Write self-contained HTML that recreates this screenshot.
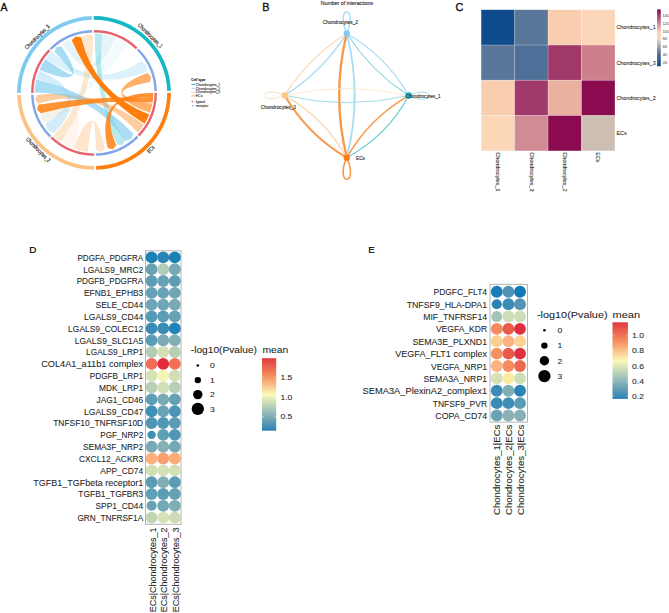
<!DOCTYPE html><html><head><meta charset="utf-8"><style>html,body{margin:0;padding:0;background:#fff;}svg{display:block;}</style></head><body><svg width="669" height="613" viewBox="0 0 669 613" font-family="Liberation Sans, sans-serif">
<rect width="669" height="613" fill="#ffffff"/>
<rect x="145.5" y="250.8" width="35.5" height="273.49999999999994" fill="none" stroke="#b3b3b3" stroke-width="1"/>
<text x="143.20" y="260.80" font-size="8.26" text-anchor="end" fill="#262626" textLength="65.77" lengthAdjust="spacingAndGlyphs" stroke="#262626" stroke-width="0.07">PDGFA_PDGFRA</text>
<circle cx="151.60" cy="257.40" r="5.95" fill="#1a80b6"/>
<circle cx="163.20" cy="257.40" r="5.95" fill="#2a84b5"/>
<circle cx="174.80" cy="257.40" r="5.95" fill="#1a80b6"/>
<text x="143.20" y="272.63" font-size="8.26" text-anchor="end" fill="#262626" textLength="60.01" lengthAdjust="spacingAndGlyphs" stroke="#262626" stroke-width="0.07">LGALS9_MRC2</text>
<circle cx="151.60" cy="269.23" r="5.95" fill="#6aa2b5"/>
<circle cx="163.20" cy="269.23" r="5.95" fill="#b5cdb8"/>
<circle cx="174.80" cy="269.23" r="5.95" fill="#78a8b5"/>
<text x="143.20" y="284.46" font-size="8.26" text-anchor="end" fill="#262626" textLength="66.56" lengthAdjust="spacingAndGlyphs" stroke="#262626" stroke-width="0.07">PDGFB_PDGFRA</text>
<circle cx="151.60" cy="281.06" r="5.95" fill="#5d9db6"/>
<circle cx="163.20" cy="281.06" r="5.95" fill="#6aa2b5"/>
<circle cx="174.80" cy="281.06" r="5.95" fill="#5d9db6"/>
<text x="143.20" y="296.29" font-size="8.26" text-anchor="end" fill="#262626" textLength="59.17" lengthAdjust="spacingAndGlyphs" stroke="#262626" stroke-width="0.07">EFNB1_EPHB3</text>
<circle cx="151.60" cy="292.89" r="5.95" fill="#65a0b5"/>
<circle cx="163.20" cy="292.89" r="5.95" fill="#6aa2b5"/>
<circle cx="174.80" cy="292.89" r="5.95" fill="#70a5b5"/>
<text x="143.20" y="308.12" font-size="8.26" text-anchor="end" fill="#262626" textLength="47.56" lengthAdjust="spacingAndGlyphs" stroke="#262626" stroke-width="0.07">SELE_CD44</text>
<circle cx="151.60" cy="304.72" r="5.95" fill="#6ea4b5"/>
<circle cx="163.20" cy="304.72" r="5.95" fill="#70a5b5"/>
<circle cx="174.80" cy="304.72" r="5.95" fill="#78a9b5"/>
<text x="143.20" y="319.95" font-size="8.26" text-anchor="end" fill="#262626" textLength="59.16" lengthAdjust="spacingAndGlyphs" stroke="#262626" stroke-width="0.07">LGALS9_CD44</text>
<circle cx="151.60" cy="316.55" r="5.95" fill="#5599b5"/>
<circle cx="163.20" cy="316.55" r="5.95" fill="#5e9db5"/>
<circle cx="174.80" cy="316.55" r="5.95" fill="#65a0b5"/>
<text x="143.20" y="331.78" font-size="8.26" text-anchor="end" fill="#262626" textLength="75.06" lengthAdjust="spacingAndGlyphs" stroke="#262626" stroke-width="0.07">LGALS9_COLEC12</text>
<circle cx="151.60" cy="328.38" r="5.95" fill="#3a8cb5"/>
<circle cx="163.20" cy="328.38" r="5.95" fill="#3a8cb5"/>
<circle cx="174.80" cy="328.38" r="5.95" fill="#1f82b8"/>
<text x="143.20" y="343.61" font-size="8.26" text-anchor="end" fill="#262626" textLength="68.39" lengthAdjust="spacingAndGlyphs" stroke="#262626" stroke-width="0.07">LGALS9_SLC1A5</text>
<circle cx="151.60" cy="340.21" r="5.95" fill="#5c9cb5"/>
<circle cx="163.20" cy="340.21" r="5.95" fill="#7aaab5"/>
<circle cx="174.80" cy="340.21" r="5.95" fill="#80aeb5"/>
<text x="143.20" y="355.44" font-size="8.26" text-anchor="end" fill="#262626" textLength="57.08" lengthAdjust="spacingAndGlyphs" stroke="#262626" stroke-width="0.07">LGALS9_LRP1</text>
<circle cx="151.60" cy="352.04" r="5.95" fill="#b4cdb6"/>
<circle cx="163.20" cy="352.04" r="5.95" fill="#d4e0b5"/>
<circle cx="174.80" cy="352.04" r="5.95" fill="#b8cfb6"/>
<text x="143.20" y="367.27" font-size="8.26" text-anchor="end" fill="#262626" textLength="101.96" lengthAdjust="spacingAndGlyphs" stroke="#262626" stroke-width="0.07">COL4A1_a11b1 complex</text>
<circle cx="151.60" cy="363.87" r="5.95" fill="#f26d55"/>
<circle cx="163.20" cy="363.87" r="5.95" fill="#e22b3d"/>
<circle cx="174.80" cy="363.87" r="5.95" fill="#f47055"/>
<text x="143.20" y="379.10" font-size="8.26" text-anchor="end" fill="#262626" textLength="53.44" lengthAdjust="spacingAndGlyphs" stroke="#262626" stroke-width="0.07">PDGFB_LRP1</text>
<circle cx="151.60" cy="375.70" r="5.95" fill="#d5e2b5"/>
<circle cx="163.20" cy="375.70" r="5.95" fill="#f5f5b8"/>
<circle cx="174.80" cy="375.70" r="5.95" fill="#d0dfb5"/>
<text x="143.20" y="390.93" font-size="8.26" text-anchor="end" fill="#262626" textLength="44.09" lengthAdjust="spacingAndGlyphs" stroke="#262626" stroke-width="0.07">MDK_LRP1</text>
<circle cx="151.60" cy="387.53" r="5.95" fill="#b8cfb6"/>
<circle cx="163.20" cy="387.53" r="5.95" fill="#d2e0b5"/>
<circle cx="174.80" cy="387.53" r="5.95" fill="#b8cfb6"/>
<text x="143.20" y="402.76" font-size="8.26" text-anchor="end" fill="#262626" textLength="46.72" lengthAdjust="spacingAndGlyphs" stroke="#262626" stroke-width="0.07">JAG1_CD46</text>
<circle cx="151.60" cy="399.36" r="5.95" fill="#5f9db5"/>
<circle cx="163.20" cy="399.36" r="5.95" fill="#7aabb5"/>
<circle cx="174.80" cy="399.36" r="5.95" fill="#65a0b5"/>
<text x="143.20" y="414.59" font-size="8.26" text-anchor="end" fill="#262626" textLength="59.16" lengthAdjust="spacingAndGlyphs" stroke="#262626" stroke-width="0.07">LGALS9_CD47</text>
<circle cx="151.60" cy="411.19" r="5.95" fill="#3f90b5"/>
<circle cx="163.20" cy="411.19" r="5.95" fill="#6aa3b5"/>
<circle cx="174.80" cy="411.19" r="5.95" fill="#4a94b5"/>
<text x="143.20" y="426.42" font-size="8.26" text-anchor="end" fill="#262626" textLength="90.02" lengthAdjust="spacingAndGlyphs" stroke="#262626" stroke-width="0.07">TNFSF10_TNFRSF10D</text>
<circle cx="151.60" cy="423.02" r="5.95" fill="#4f97b5"/>
<circle cx="163.20" cy="423.02" r="5.95" fill="#4f97b5"/>
<circle cx="174.80" cy="423.02" r="5.95" fill="#5a9bb5"/>
<text x="143.20" y="438.25" font-size="8.26" text-anchor="end" fill="#262626" textLength="42.88" lengthAdjust="spacingAndGlyphs" stroke="#262626" stroke-width="0.07">PGF_NRP2</text>
<circle cx="151.60" cy="434.85" r="4.2" fill="#3f90b5"/>
<circle cx="163.20" cy="434.85" r="5.95" fill="#60a0b5"/>
<circle cx="174.80" cy="434.85" r="5.95" fill="#4f97b5"/>
<text x="143.20" y="450.08" font-size="8.26" text-anchor="end" fill="#262626" textLength="60.18" lengthAdjust="spacingAndGlyphs" stroke="#262626" stroke-width="0.07">SEMA3F_NRP2</text>
<circle cx="151.60" cy="446.68" r="5.95" fill="#78a9b5"/>
<circle cx="163.20" cy="446.68" r="5.95" fill="#86b0b5"/>
<circle cx="174.80" cy="446.68" r="5.95" fill="#75a8b5"/>
<text x="143.20" y="461.91" font-size="8.26" text-anchor="end" fill="#262626" textLength="64.21" lengthAdjust="spacingAndGlyphs" stroke="#262626" stroke-width="0.07">CXCL12_ACKR3</text>
<circle cx="151.60" cy="458.51" r="5.95" fill="#fdb07d"/>
<circle cx="163.20" cy="458.51" r="5.95" fill="#f9a070"/>
<circle cx="174.80" cy="458.51" r="5.95" fill="#fcaa78"/>
<text x="143.20" y="473.74" font-size="8.26" text-anchor="end" fill="#262626" textLength="42.84" lengthAdjust="spacingAndGlyphs" stroke="#262626" stroke-width="0.07">APP_CD74</text>
<circle cx="151.60" cy="470.34" r="5.95" fill="#d2e0b5"/>
<circle cx="163.20" cy="470.34" r="5.95" fill="#d5e2b5"/>
<circle cx="174.80" cy="470.34" r="5.95" fill="#d2e0b5"/>
<text x="143.20" y="485.57" font-size="8.26" text-anchor="end" fill="#262626" textLength="109.99" lengthAdjust="spacingAndGlyphs" stroke="#262626" stroke-width="0.07">TGFB1_TGFbeta receptor1</text>
<circle cx="151.60" cy="482.17" r="5.95" fill="#5a9bb5"/>
<circle cx="163.20" cy="482.17" r="5.95" fill="#80aeb5"/>
<circle cx="174.80" cy="482.17" r="5.95" fill="#5a9bb5"/>
<text x="143.20" y="497.40" font-size="8.26" text-anchor="end" fill="#262626" textLength="64.81" lengthAdjust="spacingAndGlyphs" stroke="#262626" stroke-width="0.07">TGFB1_TGFBR3</text>
<circle cx="151.60" cy="494.00" r="5.95" fill="#60a0b5"/>
<circle cx="163.20" cy="494.00" r="5.95" fill="#5c9cb5"/>
<circle cx="174.80" cy="494.00" r="5.95" fill="#65a0b5"/>
<text x="143.20" y="509.23" font-size="8.26" text-anchor="end" fill="#262626" textLength="47.74" lengthAdjust="spacingAndGlyphs" stroke="#262626" stroke-width="0.07">SPP1_CD44</text>
<circle cx="151.60" cy="505.83" r="5.0" fill="#65a0b5"/>
<circle cx="163.20" cy="505.83" r="5.95" fill="#75a8b5"/>
<circle cx="174.80" cy="505.83" r="5.95" fill="#80aeb5"/>
<text x="143.20" y="521.06" font-size="8.26" text-anchor="end" fill="#262626" textLength="65.77" lengthAdjust="spacingAndGlyphs" stroke="#262626" stroke-width="0.07">GRN_TNFRSF1A</text>
<circle cx="151.60" cy="517.66" r="5.95" fill="#c2d6b5"/>
<circle cx="163.20" cy="517.66" r="5.95" fill="#d5e2b5"/>
<circle cx="174.80" cy="517.66" r="5.95" fill="#ccdbb5"/>
<text x="155.80" y="527.50" font-size="8.26" text-anchor="end" fill="#262626" textLength="84.73" lengthAdjust="spacingAndGlyphs" transform="rotate(-90 155.80 527.50)" stroke="#262626" stroke-width="0.07">ECs|Chondrocytes_1</text>
<text x="167.40" y="527.50" font-size="8.26" text-anchor="end" fill="#262626" textLength="84.73" lengthAdjust="spacingAndGlyphs" transform="rotate(-90 167.40 527.50)" stroke="#262626" stroke-width="0.07">ECs|Chondrocytes_2</text>
<text x="179.00" y="527.50" font-size="8.26" text-anchor="end" fill="#262626" textLength="84.73" lengthAdjust="spacingAndGlyphs" transform="rotate(-90 179.00 527.50)" stroke="#262626" stroke-width="0.07">ECs|Chondrocytes_3</text>
<rect x="490.0" y="284.4" width="37.5" height="137.70000000000005" fill="none" stroke="#b3b3b3" stroke-width="1"/>
<text x="487.10" y="295.30" font-size="8.57" text-anchor="end" fill="#262626" textLength="53.62" lengthAdjust="spacingAndGlyphs" stroke="#262626" stroke-width="0.07">PDGFC_FLT4</text>
<circle cx="496.80" cy="291.80" r="5.95" fill="#1a7db5"/>
<circle cx="508.40" cy="291.80" r="5.95" fill="#4f93b5"/>
<circle cx="520.00" cy="291.80" r="5.95" fill="#0f7ab5"/>
<text x="487.10" y="307.67" font-size="8.57" text-anchor="end" fill="#262626" textLength="80.45" lengthAdjust="spacingAndGlyphs" stroke="#262626" stroke-width="0.07">TNFSF9_HLA-DPA1</text>
<circle cx="496.80" cy="304.17" r="5.0" fill="#2a83b8"/>
<circle cx="508.40" cy="304.17" r="5.95" fill="#3a8bb5"/>
<circle cx="520.00" cy="304.17" r="5.95" fill="#5594b5"/>
<text x="487.10" y="320.04" font-size="8.57" text-anchor="end" fill="#262626" textLength="63.90" lengthAdjust="spacingAndGlyphs" stroke="#262626" stroke-width="0.07">MIF_TNFRSF14</text>
<circle cx="496.80" cy="316.54" r="5.5" fill="#a5c4b8"/>
<circle cx="508.40" cy="316.54" r="5.95" fill="#cfdfb5"/>
<circle cx="520.00" cy="316.54" r="5.95" fill="#cedfb5"/>
<text x="487.10" y="332.41" font-size="8.57" text-anchor="end" fill="#262626" textLength="51.15" lengthAdjust="spacingAndGlyphs" stroke="#262626" stroke-width="0.07">VEGFA_KDR</text>
<circle cx="496.80" cy="328.91" r="5.95" fill="#f58a60"/>
<circle cx="508.40" cy="328.91" r="5.95" fill="#ea5a4a"/>
<circle cx="520.00" cy="328.91" r="5.95" fill="#e02e3e"/>
<text x="487.10" y="344.78" font-size="8.57" text-anchor="end" fill="#262626" textLength="74.66" lengthAdjust="spacingAndGlyphs" stroke="#262626" stroke-width="0.07">SEMA3E_PLXND1</text>
<circle cx="496.80" cy="341.28" r="5.95" fill="#fdcf8f"/>
<circle cx="508.40" cy="341.28" r="5.95" fill="#fbb280"/>
<circle cx="520.00" cy="341.28" r="5.95" fill="#fdd391"/>
<text x="487.10" y="357.15" font-size="8.57" text-anchor="end" fill="#262626" textLength="91.84" lengthAdjust="spacingAndGlyphs" stroke="#262626" stroke-width="0.07">VEGFA_FLT1 complex</text>
<circle cx="496.80" cy="353.65" r="5.95" fill="#f7905f"/>
<circle cx="508.40" cy="353.65" r="5.95" fill="#ea5a4a"/>
<circle cx="520.00" cy="353.65" r="5.95" fill="#e0303e"/>
<text x="487.10" y="369.52" font-size="8.57" text-anchor="end" fill="#262626" textLength="56.03" lengthAdjust="spacingAndGlyphs" stroke="#262626" stroke-width="0.07">VEGFA_NRP1</text>
<circle cx="496.80" cy="366.02" r="5.95" fill="#fdb27f"/>
<circle cx="508.40" cy="366.02" r="5.95" fill="#f58a60"/>
<circle cx="520.00" cy="366.02" r="5.95" fill="#ee6a52"/>
<text x="487.10" y="381.89" font-size="8.57" text-anchor="end" fill="#262626" textLength="63.65" lengthAdjust="spacingAndGlyphs" stroke="#262626" stroke-width="0.07">SEMA3A_NRP1</text>
<circle cx="496.80" cy="378.39" r="5.95" fill="#d3e1b5"/>
<circle cx="508.40" cy="378.39" r="5.95" fill="#fdeca0"/>
<circle cx="520.00" cy="378.39" r="5.95" fill="#cfdfb5"/>
<text x="487.10" y="394.26" font-size="8.57" text-anchor="end" fill="#262626" textLength="124.50" lengthAdjust="spacingAndGlyphs" stroke="#262626" stroke-width="0.07">SEMA3A_PlexinA2_complex1</text>
<circle cx="496.80" cy="390.76" r="5.95" fill="#3a8bb5"/>
<circle cx="508.40" cy="390.76" r="5.95" fill="#80aeb5"/>
<circle cx="520.00" cy="390.76" r="5.95" fill="#2a84b8"/>
<text x="487.10" y="406.63" font-size="8.57" text-anchor="end" fill="#262626" textLength="54.33" lengthAdjust="spacingAndGlyphs" stroke="#262626" stroke-width="0.07">TNFSF9_PVR</text>
<circle cx="496.80" cy="403.13" r="5.95" fill="#3a8bb5"/>
<circle cx="508.40" cy="403.13" r="5.95" fill="#3f8eb5"/>
<circle cx="520.00" cy="403.13" r="5.95" fill="#5a9bb5"/>
<text x="487.10" y="419.00" font-size="8.57" text-anchor="end" fill="#262626" textLength="51.76" lengthAdjust="spacingAndGlyphs" stroke="#262626" stroke-width="0.07">COPA_CD74</text>
<circle cx="496.80" cy="415.50" r="5.95" fill="#6aa3b5"/>
<circle cx="508.40" cy="415.50" r="5.95" fill="#8ab2b5"/>
<circle cx="520.00" cy="415.50" r="5.95" fill="#86b0b5"/>
<text x="500.40" y="424.60" font-size="8.57" text-anchor="end" fill="#262626" textLength="90.34" lengthAdjust="spacingAndGlyphs" transform="rotate(-90 500.40 424.60)" stroke="#262626" stroke-width="0.07">Chondrocytes_1|ECs</text>
<text x="512.00" y="424.60" font-size="8.57" text-anchor="end" fill="#262626" textLength="90.34" lengthAdjust="spacingAndGlyphs" transform="rotate(-90 512.00 424.60)" stroke="#262626" stroke-width="0.07">Chondrocytes_2|ECs</text>
<text x="523.60" y="424.60" font-size="8.57" text-anchor="end" fill="#262626" textLength="90.34" lengthAdjust="spacingAndGlyphs" transform="rotate(-90 523.60 424.60)" stroke="#262626" stroke-width="0.07">Chondrocytes_3|ECs</text>
<text x="190.80" y="353.20" font-size="8.47" text-anchor="start" fill="#262626" textLength="66.18" lengthAdjust="spacingAndGlyphs" stroke="#262626" stroke-width="0.07">-log10(Pvalue)</text>
<text x="262.50" y="353.20" font-size="8.47" text-anchor="start" fill="#262626" textLength="25.81" lengthAdjust="spacingAndGlyphs" stroke="#262626" stroke-width="0.07">mean</text>
<circle cx="197.8" cy="365.5" r="1.3" fill="#000"/>
<text x="210.00" y="368.30" font-size="7.65" text-anchor="start" fill="#262626" textLength="4.77" lengthAdjust="spacingAndGlyphs" stroke="#262626" stroke-width="0.07">0</text>
<circle cx="197.8" cy="380.1" r="3.2" fill="#000"/>
<text x="210.00" y="382.90" font-size="7.65" text-anchor="start" fill="#262626" textLength="4.77" lengthAdjust="spacingAndGlyphs" stroke="#262626" stroke-width="0.07">1</text>
<circle cx="197.8" cy="394.6" r="4.7" fill="#000"/>
<text x="210.00" y="397.40" font-size="7.65" text-anchor="start" fill="#262626" textLength="4.77" lengthAdjust="spacingAndGlyphs" stroke="#262626" stroke-width="0.07">2</text>
<circle cx="197.8" cy="408.8" r="6.15" fill="#000"/>
<text x="210.00" y="411.60" font-size="7.65" text-anchor="start" fill="#262626" textLength="4.77" lengthAdjust="spacingAndGlyphs" stroke="#262626" stroke-width="0.07">3</text>
<defs><linearGradient id="g262" x1="0" y1="1" x2="0" y2="0"><stop offset="0" stop-color="#2c7fb3"/><stop offset="0.25" stop-color="#94bcb8"/><stop offset="0.5" stop-color="#fbf8b8"/><stop offset="0.75" stop-color="#f4905e"/><stop offset="1" stop-color="#df3a3e"/></linearGradient></defs>
<rect x="262.0" y="358.2" width="14.199999999999989" height="72.5" fill="url(#g262)"/>
<line x1="262.0" y1="377.0" x2="264.0" y2="377.0" stroke="#fff" stroke-opacity="0.6" stroke-width="0.6"/>
<line x1="274.2" y1="377.0" x2="276.2" y2="377.0" stroke="#fff" stroke-opacity="0.6" stroke-width="0.6"/>
<text x="280.40" y="379.80" font-size="7.65" text-anchor="start" fill="#262626" textLength="11.93" lengthAdjust="spacingAndGlyphs" stroke="#262626" stroke-width="0.07">1.5</text>
<line x1="262.0" y1="396.9" x2="264.0" y2="396.9" stroke="#fff" stroke-opacity="0.6" stroke-width="0.6"/>
<line x1="274.2" y1="396.9" x2="276.2" y2="396.9" stroke="#fff" stroke-opacity="0.6" stroke-width="0.6"/>
<text x="280.40" y="399.70" font-size="7.65" text-anchor="start" fill="#262626" textLength="11.93" lengthAdjust="spacingAndGlyphs" stroke="#262626" stroke-width="0.07">1.0</text>
<line x1="262.0" y1="416.6" x2="264.0" y2="416.6" stroke="#fff" stroke-opacity="0.6" stroke-width="0.6"/>
<line x1="274.2" y1="416.6" x2="276.2" y2="416.6" stroke="#fff" stroke-opacity="0.6" stroke-width="0.6"/>
<text x="280.40" y="419.40" font-size="7.65" text-anchor="start" fill="#262626" textLength="11.93" lengthAdjust="spacingAndGlyphs" stroke="#262626" stroke-width="0.07">0.5</text>
<text x="537.00" y="318.20" font-size="8.77" text-anchor="start" fill="#262626" textLength="70.54" lengthAdjust="spacingAndGlyphs" stroke="#262626" stroke-width="0.07">-log10(Pvalue)</text>
<text x="612.50" y="318.20" font-size="8.77" text-anchor="start" fill="#262626" textLength="27.51" lengthAdjust="spacingAndGlyphs" stroke="#262626" stroke-width="0.07">mean</text>
<circle cx="544.4" cy="330.3" r="1.3" fill="#000"/>
<text x="557.50" y="333.10" font-size="7.65" text-anchor="start" fill="#262626" textLength="4.77" lengthAdjust="spacingAndGlyphs" stroke="#262626" stroke-width="0.07">0</text>
<circle cx="544.4" cy="345.6" r="3.2" fill="#000"/>
<text x="557.50" y="348.40" font-size="7.65" text-anchor="start" fill="#262626" textLength="4.77" lengthAdjust="spacingAndGlyphs" stroke="#262626" stroke-width="0.07">1</text>
<circle cx="544.4" cy="360.8" r="4.7" fill="#000"/>
<text x="557.50" y="363.60" font-size="7.65" text-anchor="start" fill="#262626" textLength="4.77" lengthAdjust="spacingAndGlyphs" stroke="#262626" stroke-width="0.07">2</text>
<circle cx="544.4" cy="376.1" r="6.15" fill="#000"/>
<text x="557.50" y="378.90" font-size="7.65" text-anchor="start" fill="#262626" textLength="4.77" lengthAdjust="spacingAndGlyphs" stroke="#262626" stroke-width="0.07">3</text>
<defs><linearGradient id="g612" x1="0" y1="1" x2="0" y2="0"><stop offset="0" stop-color="#2c7fb3"/><stop offset="0.25" stop-color="#94bcb8"/><stop offset="0.5" stop-color="#fbf8b8"/><stop offset="0.75" stop-color="#f4905e"/><stop offset="1" stop-color="#df3a3e"/></linearGradient></defs>
<rect x="612.5" y="322.3" width="15.399999999999977" height="76.59999999999997" fill="url(#g612)"/>
<line x1="612.5" y1="335.2" x2="614.5" y2="335.2" stroke="#fff" stroke-opacity="0.6" stroke-width="0.6"/>
<line x1="625.9" y1="335.2" x2="627.9" y2="335.2" stroke="#fff" stroke-opacity="0.6" stroke-width="0.6"/>
<text x="632.10" y="338.00" font-size="7.65" text-anchor="start" fill="#262626" textLength="11.93" lengthAdjust="spacingAndGlyphs" stroke="#262626" stroke-width="0.07">1.0</text>
<line x1="612.5" y1="350.5" x2="614.5" y2="350.5" stroke="#fff" stroke-opacity="0.6" stroke-width="0.6"/>
<line x1="625.9" y1="350.5" x2="627.9" y2="350.5" stroke="#fff" stroke-opacity="0.6" stroke-width="0.6"/>
<text x="632.10" y="353.30" font-size="7.65" text-anchor="start" fill="#262626" textLength="11.93" lengthAdjust="spacingAndGlyphs" stroke="#262626" stroke-width="0.07">0.8</text>
<line x1="612.5" y1="365.8" x2="614.5" y2="365.8" stroke="#fff" stroke-opacity="0.6" stroke-width="0.6"/>
<line x1="625.9" y1="365.8" x2="627.9" y2="365.8" stroke="#fff" stroke-opacity="0.6" stroke-width="0.6"/>
<text x="632.10" y="368.60" font-size="7.65" text-anchor="start" fill="#262626" textLength="11.93" lengthAdjust="spacingAndGlyphs" stroke="#262626" stroke-width="0.07">0.6</text>
<line x1="612.5" y1="381.0" x2="614.5" y2="381.0" stroke="#fff" stroke-opacity="0.6" stroke-width="0.6"/>
<line x1="625.9" y1="381.0" x2="627.9" y2="381.0" stroke="#fff" stroke-opacity="0.6" stroke-width="0.6"/>
<text x="632.10" y="383.80" font-size="7.65" text-anchor="start" fill="#262626" textLength="11.93" lengthAdjust="spacingAndGlyphs" stroke="#262626" stroke-width="0.07">0.4</text>
<line x1="612.5" y1="396.1" x2="614.5" y2="396.1" stroke="#fff" stroke-opacity="0.6" stroke-width="0.6"/>
<line x1="625.9" y1="396.1" x2="627.9" y2="396.1" stroke="#fff" stroke-opacity="0.6" stroke-width="0.6"/>
<text x="632.10" y="398.90" font-size="7.65" text-anchor="start" fill="#262626" textLength="11.93" lengthAdjust="spacingAndGlyphs" stroke="#262626" stroke-width="0.07">0.2</text>
<text x="29.20" y="252.90" font-size="9.80" text-anchor="start" fill="#000" stroke="#000" stroke-width="0.2">D</text>
<text x="368.30" y="252.90" font-size="9.80" text-anchor="start" fill="#000" stroke="#000" stroke-width="0.2">E</text>
<text x="0.60" y="10.90" font-size="10.50" text-anchor="start" fill="#111" stroke="#111" stroke-width="0.35">A</text>
<text x="262.20" y="11.10" font-size="10.80" text-anchor="start" fill="#111" stroke="#111" stroke-width="0.35">B</text>
<text x="455.40" y="10.90" font-size="10.80" text-anchor="start" fill="#111" stroke="#111" stroke-width="0.35">C</text>
<rect x="481.25" y="9.80" width="33.40" height="35.24" fill="#0e4c8e"/>
<rect x="514.65" y="9.80" width="33.40" height="35.24" fill="#5a7799"/>
<rect x="548.05" y="9.80" width="33.40" height="35.24" fill="#f9cdb0"/>
<rect x="581.45" y="9.80" width="33.40" height="35.24" fill="#fbd6b8"/>
<rect x="481.25" y="45.04" width="33.40" height="35.24" fill="#5a7799"/>
<rect x="514.65" y="45.04" width="33.40" height="35.24" fill="#4e6f97"/>
<rect x="548.05" y="45.04" width="33.40" height="35.24" fill="#a1386a"/>
<rect x="581.45" y="45.04" width="33.40" height="35.24" fill="#cd7f8b"/>
<rect x="481.25" y="80.28" width="33.40" height="35.24" fill="#f9cdb0"/>
<rect x="514.65" y="80.28" width="33.40" height="35.24" fill="#a1396b"/>
<rect x="548.05" y="80.28" width="33.40" height="35.24" fill="#eab0a0"/>
<rect x="581.45" y="80.28" width="33.40" height="35.24" fill="#8a0b50"/>
<rect x="481.25" y="115.52" width="33.40" height="35.24" fill="#fbd7b8"/>
<rect x="514.65" y="115.52" width="33.40" height="35.24" fill="#d08b95"/>
<rect x="548.05" y="115.52" width="33.40" height="35.24" fill="#8a0b50"/>
<rect x="581.45" y="115.52" width="33.40" height="35.24" fill="#cebfb5"/>
<line x1="514.65" y1="9.8" x2="514.65" y2="150.76" stroke="#fff" stroke-opacity="0.45" stroke-width="0.6"/>
<line x1="481.25" y1="45.04" x2="614.85" y2="45.04" stroke="#fff" stroke-opacity="0.45" stroke-width="0.6"/>
<line x1="548.05" y1="9.8" x2="548.05" y2="150.76" stroke="#fff" stroke-opacity="0.45" stroke-width="0.6"/>
<line x1="481.25" y1="80.28" x2="614.85" y2="80.28" stroke="#fff" stroke-opacity="0.45" stroke-width="0.6"/>
<line x1="581.45" y1="9.8" x2="581.45" y2="150.76" stroke="#fff" stroke-opacity="0.45" stroke-width="0.6"/>
<line x1="481.25" y1="115.52" x2="614.85" y2="115.52" stroke="#fff" stroke-opacity="0.45" stroke-width="0.6"/>
<text x="616.45" y="29.42" font-size="5.40" text-anchor="start" fill="#333" stroke="#333" stroke-width="0.1">Chondrocytes_1</text>
<text x="616.45" y="64.66" font-size="5.40" text-anchor="start" fill="#333" stroke="#333" stroke-width="0.1">Chondrocytes_3</text>
<text x="616.45" y="99.90" font-size="5.40" text-anchor="start" fill="#333" stroke="#333" stroke-width="0.1">Chondrocytes_2</text>
<text x="616.45" y="135.14" font-size="5.40" text-anchor="start" fill="#333" stroke="#333" stroke-width="0.1">ECs</text>
<text x="496.15" y="152.30" font-size="5.40" text-anchor="start" fill="#333" transform="rotate(90 496.15 152.3)" stroke="#333" stroke-width="0.1">Chondrocytes_1</text>
<text x="529.55" y="152.30" font-size="5.40" text-anchor="start" fill="#333" transform="rotate(90 529.5500000000001 152.3)" stroke="#333" stroke-width="0.1">Chondrocytes_3</text>
<text x="562.95" y="152.30" font-size="5.40" text-anchor="start" fill="#333" transform="rotate(90 562.95 152.3)" stroke="#333" stroke-width="0.1">Chondrocytes_2</text>
<text x="596.35" y="152.30" font-size="5.40" text-anchor="start" fill="#333" transform="rotate(90 596.35 152.3)" stroke="#333" stroke-width="0.1">ECs</text>
<defs><linearGradient id="hcb" x1="0" y1="1" x2="0" y2="0"><stop offset="0" stop-color="#0e4c8e"/><stop offset="0.2" stop-color="#4a6a95"/><stop offset="0.35" stop-color="#9aa3b3"/><stop offset="0.48" stop-color="#eed9cc"/><stop offset="0.6" stop-color="#f8cfb3"/><stop offset="0.75" stop-color="#d28a95"/><stop offset="0.9" stop-color="#a3386b"/><stop offset="1" stop-color="#8a0b50"/></linearGradient></defs>
<rect x="657.1" y="9.4" width="3.7" height="56.9" fill="url(#hcb)"/>
<text x="662.40" y="17.00" font-size="4.40" text-anchor="start" fill="#444">140</text>
<text x="662.40" y="24.90" font-size="4.40" text-anchor="start" fill="#444">120</text>
<text x="662.40" y="32.60" font-size="4.40" text-anchor="start" fill="#444">100</text>
<text x="662.40" y="40.40" font-size="4.40" text-anchor="start" fill="#444">80</text>
<text x="662.40" y="48.20" font-size="4.40" text-anchor="start" fill="#444">60</text>
<text x="662.40" y="56.00" font-size="4.40" text-anchor="start" fill="#444">40</text>
<text x="662.40" y="63.90" font-size="4.40" text-anchor="start" fill="#444">20</text>
<path d="M346.75,33.40 C358.86,4.60 334.64,4.60 346.75,33.40" fill="none" stroke="#a9dcf5" stroke-width="1.4"/>
<path d="M346.80,157.70 C334.00,186.37 359.60,186.37 346.80,157.70" fill="none" stroke="#f79a4c" stroke-width="1.6"/>
<path d="M284.70,95.40 C256.97,83.29 256.97,107.51 284.70,95.40" fill="none" stroke="#fbd9b3" stroke-width="0.8"/>
<path d="M408.80,95.60 C435.47,108.06 435.47,83.14 408.80,95.60" fill="none" stroke="#8fd8de" stroke-width="0.8"/>
<path d="M346.75,33.40 Q308.66,57.33 284.70,95.40" fill="none" stroke="#fcd3a6" stroke-width="1.1" stroke-opacity="1.0"/>
<path d="M346.75,33.40 Q322.79,71.47 284.70,95.40" fill="none" stroke="#a9dcf5" stroke-width="1.3" stroke-opacity="1.0"/>
<path d="M346.75,33.40 Q386.27,56.02 408.80,95.60" fill="none" stroke="#a9dcf5" stroke-width="1.1" stroke-opacity="1.0"/>
<path d="M346.75,33.40 Q370.70,71.56 408.80,95.60" fill="none" stroke="#5ec8cf" stroke-width="0.95" stroke-opacity="1.0"/>
<path d="M346.75,33.40 Q331.58,95.56 346.80,157.70" fill="none" stroke="#f79a4c" stroke-width="2.4" stroke-opacity="1.0"/>
<path d="M346.75,33.40 Q362.57,95.54 346.80,157.70" fill="none" stroke="#a9dcf5" stroke-width="1.8" stroke-opacity="1.0"/>
<path d="M284.70,95.40 Q346.77,81.50 408.80,95.60" fill="none" stroke="#f9e6cf" stroke-width="0.9" stroke-opacity="1.0"/>
<path d="M284.70,95.40 Q346.73,109.90 408.80,95.60" fill="none" stroke="#8fd6dc" stroke-width="0.85" stroke-opacity="1.0"/>
<path d="M284.70,95.40 Q307.68,134.60 346.80,157.70" fill="none" stroke="#f79a4c" stroke-width="2.0" stroke-opacity="1.0"/>
<path d="M284.70,95.40 Q324.53,117.80 346.80,157.70" fill="none" stroke="#fcd3a6" stroke-width="1.2" stroke-opacity="1.0"/>
<path d="M408.80,95.60 Q369.17,118.03 346.80,157.70" fill="none" stroke="#f79a4c" stroke-width="1.5" stroke-opacity="1.0"/>
<path d="M408.80,95.60 Q387.14,135.98 346.80,157.70" fill="none" stroke="#5ec8cf" stroke-width="1.1" stroke-opacity="1.0"/>
<circle cx="346.75" cy="33.4" r="3.1" fill="#7ecbef"/>
<circle cx="408.8" cy="95.6" r="3.3" fill="#17b2bf"/>
<circle cx="284.7" cy="95.4" r="3.1" fill="#f9c98c"/>
<circle cx="346.8" cy="157.7" r="3.2" fill="#ff7f0e"/>
<text x="347.00" y="5.40" font-size="5.17" text-anchor="middle" fill="#222" textLength="52.30" lengthAdjust="spacingAndGlyphs" stroke="#222" stroke-width="0.1">Number of interactions</text>
<text x="340.40" y="23.60" font-size="4.80" text-anchor="middle" fill="#3a3a3a" textLength="35.30" lengthAdjust="spacingAndGlyphs" stroke="#3a3a3a" stroke-width="0.15">Chondrocytes_2</text>
<text x="278.40" y="109.00" font-size="4.80" text-anchor="middle" fill="#3a3a3a" textLength="35.20" lengthAdjust="spacingAndGlyphs" stroke="#3a3a3a" stroke-width="0.15">Chondrocytes_3</text>
<text x="405.60" y="97.60" font-size="4.80" text-anchor="start" fill="#3a3a3a" textLength="35.00" lengthAdjust="spacingAndGlyphs" stroke="#3a3a3a" stroke-width="0.15">Chondrocytes_1</text>
<text x="356.00" y="159.80" font-size="4.80" text-anchor="start" fill="#3a3a3a" textLength="9.00" lengthAdjust="spacingAndGlyphs" stroke="#3a3a3a" stroke-width="0.15">ECs</text>
<path d="M93.80,16.00 A76.9,76.9 0 0 1 170.87,90.69 L167.17,90.79 A73.2,73.2 0 0 0 93.81,19.70 Z" fill="#12b8c6"/>
<path d="M93.89,30.00 A62.9,62.9 0 0 1 137.54,47.50 L135.87,49.23 A60.5,60.5 0 0 0 93.89,32.40 Z" fill="#e9636f"/>
<path d="M138.48,48.42 A62.9,62.9 0 0 1 156.87,91.03 L154.47,91.11 A60.5,60.5 0 0 0 136.78,50.12 Z" fill="#7ea6e8"/>
<path d="M170.90,92.70 A76.9,76.9 0 0 1 96.21,169.77 L96.11,166.07 A73.2,73.2 0 0 0 167.20,92.71 Z" fill="#ff7f0e"/>
<path d="M156.90,92.79 A62.9,62.9 0 0 1 139.40,136.44 L137.67,134.77 A60.5,60.5 0 0 0 154.50,92.79 Z" fill="#e9636f"/>
<path d="M138.48,137.38 A62.9,62.9 0 0 1 95.87,155.77 L95.79,153.37 A60.5,60.5 0 0 0 136.78,135.68 Z" fill="#7ea6e8"/>
<path d="M94.20,169.80 A76.9,76.9 0 0 1 17.13,95.11 L20.83,95.01 A73.2,73.2 0 0 0 94.19,166.10 Z" fill="#fdc285"/>
<path d="M94.11,155.80 A62.9,62.9 0 0 1 50.46,138.30 L52.13,136.57 A60.5,60.5 0 0 0 94.11,153.40 Z" fill="#e9636f"/>
<path d="M49.52,137.38 A62.9,62.9 0 0 1 31.13,94.77 L33.53,94.69 A60.5,60.5 0 0 0 51.22,135.68 Z" fill="#7ea6e8"/>
<path d="M17.10,93.10 A76.9,76.9 0 0 1 91.79,16.03 L91.89,19.73 A73.2,73.2 0 0 0 20.80,93.09 Z" fill="#7ecbef"/>
<path d="M31.10,93.01 A62.9,62.9 0 0 1 48.60,49.36 L50.33,51.03 A60.5,60.5 0 0 0 33.50,93.01 Z" fill="#e9636f"/>
<path d="M49.52,48.42 A62.9,62.9 0 0 1 92.13,30.03 L92.21,32.43 A60.5,60.5 0 0 0 51.22,50.12 Z" fill="#7ea6e8"/>
<path d="M103.79,34.41 A59.3,59.3 0 0 1 115.25,37.54 Q94.00,92.90 62.90,45.01 L65.70,40.79 L70.78,40.74 Q94.00,92.90 103.79,34.41 Z" fill="#5fb8e0" fill-opacity="0.16"/>
<path d="M73.23,148.44 A59.3,59.3 0 0 1 61.70,142.63 Q94.00,92.90 45.06,122.31 L40.93,119.36 L41.06,114.29 Q94.00,92.90 73.23,148.44 Z" fill="#fdbf80" fill-opacity="0.15"/>
<path d="M94.83,33.61 A59.3,59.3 0 0 1 102.77,34.25 Q94.00,92.90 125.10,140.79 L122.30,145.01 L117.22,145.06 Q94.00,92.90 94.83,33.61 Z" fill="#12b8c6" fill-opacity="0.3"/>
<path d="M45.72,58.46 A59.3,59.3 0 0 1 51.70,51.34 Q94.00,92.90 141.34,60.97 L146.36,65.06 L146.94,71.51 Q94.00,92.90 45.72,58.46 Z" fill="#7ecbef" fill-opacity="0.28"/>
<path d="M116.21,37.92 A59.3,59.3 0 0 1 128.01,44.32 Q94.00,92.90 45.06,122.31 L40.93,119.36 L41.06,114.29 Q94.00,92.90 116.21,37.92 Z" fill="#12b8c6" fill-opacity="0.05"/>
<path d="M36.34,79.06 A59.3,59.3 0 0 1 39.02,70.69 Q94.00,92.90 53.62,133.28 L47.59,129.82 L45.58,123.16 Q94.00,92.90 36.34,79.06 Z" fill="#7ecbef" fill-opacity="0.35"/>
<path d="M61.27,142.35 A59.3,59.3 0 0 1 53.18,135.91 Q94.00,92.90 82.13,37.05 L87.29,33.98 L93.00,35.81 Q94.00,92.90 61.27,142.35 Z" fill="#fdbf80" fill-opacity="0.38"/>
<path d="M87.80,151.88 A59.3,59.3 0 0 1 73.72,148.62 Q94.00,92.90 104.90,148.95 L100.71,151.82 L95.99,149.97 Q94.00,92.90 87.80,151.88 Z" fill="#fdbf80" fill-opacity="0.4"/>
<path d="M144.01,124.76 A59.3,59.3 0 0 1 137.86,132.81 Q95.83,85.28 37.95,103.80 L35.08,99.61 L36.93,94.89 Q95.06,87.82 144.01,124.76 Z" fill="#ff7f0e" fill-opacity="0.4"/>
<path d="M34.70,92.38 A59.3,59.3 0 0 1 36.22,79.56 Q94.00,92.90 133.66,133.97 L130.92,139.31 L125.10,140.79 Q94.00,92.90 34.70,92.38 Z" fill="#7ecbef" fill-opacity="0.65"/>
<path d="M39.41,69.73 A59.3,59.3 0 0 1 45.42,58.89 Q94.00,92.90 54.34,51.83 L56.28,47.14 L61.25,46.13 Q94.00,92.90 39.41,69.73 Z" fill="#7ecbef" fill-opacity="0.68"/>
<path d="M152.31,103.71 A59.3,59.3 0 0 1 149.90,112.69 Q94.00,92.90 147.48,72.90 L151.07,76.80 L150.05,82.00 Q94.00,92.90 152.31,103.71 Z" fill="#ff7f0e" fill-opacity="0.62"/>
<path d="M153.30,93.11 A59.3,59.3 0 0 1 153.07,98.07 Q94.00,92.90 116.31,145.46 L112.82,149.14 L107.81,148.30 Q94.00,92.90 153.30,93.11 Z" fill="#ff7f0e" fill-opacity="0.85"/>
<path d="M153.11,97.66 A59.3,59.3 0 0 1 152.54,102.38 Q94.92,98.14 40.69,113.36 L37.14,109.74 L38.15,104.77 Q94.57,95.81 153.11,97.66 Z" fill="#ff7f0e" fill-opacity="0.85"/>
<path d="M149.25,114.44 A59.3,59.3 0 0 1 144.62,123.80 Q94.00,92.90 71.69,40.34 L75.68,36.50 L81.16,37.26 Q94.00,92.90 149.25,114.44 Z" fill="#ff7f0e" fill-opacity="1.0"/>
<text x="150.07" y="35.84" font-size="5.60" text-anchor="middle" fill="#222" textLength="32.50" lengthAdjust="spacingAndGlyphs" transform="rotate(45 150.07274114398808 35.83996406766548)" dominant-baseline="middle" stroke="#222" stroke-width="0.15">Chondrocytes_1</text>
<text x="37.44" y="37.32" font-size="5.60" text-anchor="middle" fill="#222" textLength="32.50" lengthAdjust="spacingAndGlyphs" transform="rotate(-45 37.439239382073424 37.31789534102182)" dominant-baseline="middle" stroke="#222" stroke-width="0.15">Chondrocytes_3</text>
<text x="37.93" y="149.96" font-size="5.60" text-anchor="middle" fill="#222" textLength="32.50" lengthAdjust="spacingAndGlyphs" transform="rotate(45 37.92725885601193 149.96003593233453)" dominant-baseline="middle" stroke="#222" stroke-width="0.15">Chondrocytes_2</text>
<text x="151.12" y="149.62" font-size="5.60" text-anchor="middle" fill="#222" textLength="8.50" lengthAdjust="spacingAndGlyphs" transform="rotate(-45 151.12044429118993 149.6230539020694)" dominant-baseline="middle" stroke="#222" stroke-width="0.15">ECs</text>
<text x="191.30" y="81.40" font-size="3.80" text-anchor="start" fill="#111" textLength="14.00" lengthAdjust="spacingAndGlyphs" font-weight="bold" stroke="#111" stroke-width="0.1">Cell type</text>
<line x1="191.4" y1="84.40" x2="195.0" y2="84.40" stroke="#12b8c6" stroke-width="1.0"/>
<text x="195.80" y="85.70" font-size="3.60" text-anchor="start" fill="#333" textLength="24.40" lengthAdjust="spacingAndGlyphs" stroke="#333" stroke-width="0.12">Chondrocytes_1</text>
<line x1="191.4" y1="88.25" x2="195.0" y2="88.25" stroke="#a9dcf5" stroke-width="1.0"/>
<text x="195.80" y="89.55" font-size="3.60" text-anchor="start" fill="#333" textLength="24.40" lengthAdjust="spacingAndGlyphs" stroke="#333" stroke-width="0.12">Chondrocytes_2</text>
<line x1="191.4" y1="92.10" x2="195.0" y2="92.10" stroke="#fdd2a6" stroke-width="1.0"/>
<text x="195.80" y="93.40" font-size="3.60" text-anchor="start" fill="#333" textLength="24.40" lengthAdjust="spacingAndGlyphs" stroke="#333" stroke-width="0.12">Chondrocytes_3</text>
<line x1="191.4" y1="95.95" x2="195.0" y2="95.95" stroke="#fba35a" stroke-width="1.0"/>
<text x="195.80" y="97.25" font-size="3.60" text-anchor="start" fill="#333" textLength="6.60" lengthAdjust="spacingAndGlyphs" stroke="#333" stroke-width="0.12">ECs</text>
<text x="192.4" y="103.10" font-size="3.4" text-anchor="middle" fill="#e9636f">▼</text>
<text x="195.80" y="103.20" font-size="3.60" text-anchor="start" fill="#333" textLength="9.00" lengthAdjust="spacingAndGlyphs" stroke="#333" stroke-width="0.12">ligand</text>
<text x="192.4" y="107.00" font-size="3.4" text-anchor="middle" fill="#7ea6e8">▼</text>
<text x="195.80" y="107.10" font-size="3.60" text-anchor="start" fill="#333" textLength="12.60" lengthAdjust="spacingAndGlyphs" stroke="#333" stroke-width="0.12">receptor</text>
</svg></body></html>
